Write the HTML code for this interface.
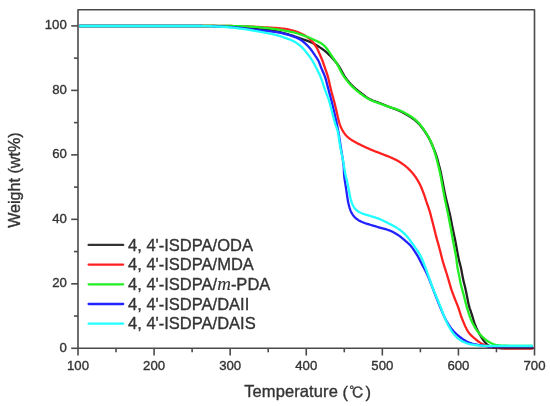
<!DOCTYPE html>
<html><head><meta charset="utf-8"><style>
html,body{margin:0;padding:0;background:#fff;width:550px;height:406px;overflow:hidden}
svg{display:block;filter:blur(0.4px)}
.c{font-family:"IPAGothic",sans-serif;font-weight:400}
.t{font-family:"Liberation Sans","Noto Sans CJK SC",sans-serif;fill:#333;stroke:#333;stroke-width:0.35px}
.tt{letter-spacing:0.1px}
.m{font-family:"Liberation Serif",serif;font-style:italic;font-size:19px;stroke-width:0.1px}
</style></head><body>
<svg width="550" height="406" viewBox="0 0 550 406">
<rect width="550" height="406" fill="#fff"/>

<g stroke="#4a4a4a" stroke-width="1.6" fill="none" stroke-linejoin="round">
<rect x="78.00" y="9.8" width="456.50" height="338.50"/>
<line x1="78.00" y1="348.30" x2="78.00" y2="355.50"/><line x1="116.04" y1="348.30" x2="116.04" y2="352.30"/><line x1="154.08" y1="348.30" x2="154.08" y2="355.50"/><line x1="192.12" y1="348.30" x2="192.12" y2="352.30"/><line x1="230.17" y1="348.30" x2="230.17" y2="355.50"/><line x1="268.21" y1="348.30" x2="268.21" y2="352.30"/><line x1="306.25" y1="348.30" x2="306.25" y2="355.50"/><line x1="344.29" y1="348.30" x2="344.29" y2="352.30"/><line x1="382.33" y1="348.30" x2="382.33" y2="355.50"/><line x1="420.38" y1="348.30" x2="420.38" y2="352.30"/><line x1="458.42" y1="348.30" x2="458.42" y2="355.50"/><line x1="496.46" y1="348.30" x2="496.46" y2="352.30"/><line x1="534.50" y1="348.30" x2="534.50" y2="355.50"/><line x1="78.00" y1="348.30" x2="71.20" y2="348.30"/><line x1="78.00" y1="316.06" x2="74.00" y2="316.06"/><line x1="78.00" y1="283.82" x2="71.20" y2="283.82"/><line x1="78.00" y1="251.58" x2="74.00" y2="251.58"/><line x1="78.00" y1="219.34" x2="71.20" y2="219.34"/><line x1="78.00" y1="187.10" x2="74.00" y2="187.10"/><line x1="78.00" y1="154.86" x2="71.20" y2="154.86"/><line x1="78.00" y1="122.62" x2="74.00" y2="122.62"/><line x1="78.00" y1="90.38" x2="71.20" y2="90.38"/><line x1="78.00" y1="58.14" x2="74.00" y2="58.14"/><line x1="78.00" y1="25.90" x2="71.20" y2="25.90"/>
</g>
<g fill="none" stroke-width="2.3" stroke-linejoin="round" stroke-linecap="butt">
<path d="M79.19,26.00L80.20,26.00L81.25,26.00L82.12,26.00L83.06,26.00L84.03,26.00L85.01,26.00L86.01,26.00L87.01,26.00L88.01,26.00L89.01,26.00L90.01,26.00L91.01,26.00L92.01,26.00L93.01,26.00L94.02,26.00L95.02,26.00L96.02,26.00L97.02,26.00L98.02,26.00L99.02,26.00L100.02,26.00L101.02,26.00L102.02,26.00L103.02,26.00L104.03,26.00L105.03,26.00L106.03,26.00L107.03,26.00L108.03,26.00L109.03,26.00L110.03,26.00L111.03,26.00L112.03,26.00L113.03,26.00L114.04,26.00L115.04,26.00L116.04,26.00L117.04,26.00L118.04,26.00L119.04,26.00L120.04,26.00L121.04,26.00L122.04,26.00L123.04,26.00L124.05,26.00L125.05,26.00L126.05,26.00L127.05,26.00L128.05,26.00L129.05,26.00L130.05,26.00L131.05,26.00L132.05,26.00L133.05,26.00L134.06,26.00L135.06,26.00L136.06,26.00L137.06,26.00L138.06,26.00L139.06,26.00L140.06,26.00L141.06,26.00L142.06,26.00L143.06,26.00L144.07,26.00L145.07,26.00L146.07,26.00L147.07,26.00L148.07,26.00L149.07,26.00L150.07,26.00L151.07,26.00L152.07,26.00L153.07,26.00L154.08,26.00L155.08,26.00L156.08,26.00L157.08,26.00L158.08,26.00L159.08,26.00L160.08,26.00L161.08,26.00L162.08,26.00L163.08,26.00L164.09,26.00L165.09,26.00L166.09,26.00L167.09,26.00L168.09,26.00L169.09,26.00L170.09,26.00L171.09,26.00L172.09,26.00L173.09,26.00L174.10,26.00L175.10,26.00L176.10,26.00L177.10,26.00L178.10,26.00L179.10,26.00L180.10,26.00L181.10,26.00L182.10,26.00L183.10,26.00L184.11,26.00L185.11,26.00L186.11,26.00L187.11,26.00L188.11,26.00L189.11,26.00L190.11,26.00L191.11,26.00L192.11,26.00L193.11,26.00L194.12,26.00L195.12,26.00L196.12,26.00L197.12,26.00L198.12,26.00L199.12,26.00L200.12,26.00L201.12,26.00L202.12,26.00L203.12,26.00L204.13,26.00L205.13,26.00L206.13,26.00L207.13,26.00L208.13,26.00L209.13,26.00L210.13,26.00L211.13,26.00L212.13,26.00L213.13,26.00L214.14,26.01L215.14,26.01L216.14,26.02L217.14,26.04L218.14,26.05L219.14,26.08L220.14,26.10L221.14,26.13L222.14,26.16L223.14,26.20L224.14,26.24L225.14,26.28L226.14,26.33L227.14,26.37L228.14,26.42L229.14,26.47L230.14,26.52L231.14,26.58L232.14,26.64L233.14,26.70L234.14,26.77L235.14,26.83L236.14,26.91L237.13,26.98L238.13,27.06L239.13,27.13L240.13,27.21L241.13,27.29L242.12,27.37L243.12,27.45L244.12,27.53L245.12,27.61L246.11,27.70L247.11,27.78L248.11,27.87L249.11,27.96L250.10,28.05L251.10,28.14L252.10,28.23L253.09,28.32L254.09,28.42L255.09,28.52L256.08,28.62L257.08,28.72L258.07,28.82L259.07,28.93L260.06,29.04L261.06,29.15L262.05,29.26L263.05,29.38L264.04,29.49L265.04,29.61L266.03,29.72L267.03,29.84L268.02,29.96L269.02,30.08L270.01,30.21L271.00,30.34L271.99,30.48L272.98,30.63L273.97,30.79L274.95,30.97L275.93,31.16L276.91,31.36L277.88,31.58L278.86,31.81L279.83,32.05L280.80,32.30L281.77,32.56L282.73,32.83L283.70,33.09L284.66,33.36L285.63,33.64L286.59,33.91L287.55,34.19L288.51,34.47L289.47,34.76L290.43,35.05L291.38,35.35L292.34,35.65L293.29,35.96L294.24,36.27L295.19,36.59L296.13,36.92L297.08,37.24L298.03,37.57L298.97,37.91L299.91,38.24L300.86,38.57L301.80,38.90L302.75,39.23L303.70,39.56L304.65,39.89L305.59,40.21L306.54,40.54L307.48,40.88L308.42,41.22L309.36,41.58L310.28,41.95L311.20,42.34L312.11,42.75L313.00,43.19L313.89,43.65L314.76,44.14L315.62,44.65L316.46,45.17L317.31,45.71L318.15,46.25L318.99,46.79L319.83,47.34L320.66,47.88L321.50,48.43L322.32,49.00L323.14,49.58L323.94,50.17L324.72,50.79L325.49,51.43L326.24,52.08L326.98,52.75L327.71,53.44L328.43,54.13L329.15,54.83L329.86,55.54L330.56,56.25L331.27,56.96L331.96,57.68L332.65,58.40L333.33,59.14L334.00,59.88L334.66,60.63L335.30,61.40L335.93,62.18L336.54,62.97L337.14,63.77L337.72,64.58L338.28,65.41L338.83,66.24L339.37,67.09L339.89,67.94L340.40,68.80L340.89,69.67L341.38,70.55L341.86,71.43L342.33,72.31L342.81,73.19L343.30,74.06L343.80,74.93L344.31,75.78L344.85,76.62L345.40,77.45L345.98,78.27L346.57,79.07L347.18,79.87L347.80,80.65L348.44,81.42L349.09,82.18L349.75,82.93L350.42,83.67L351.11,84.41L351.80,85.13L352.50,85.84L353.21,86.55L353.93,87.24L354.67,87.92L355.41,88.58L356.17,89.23L356.94,89.87L357.72,90.49L358.51,91.10L359.31,91.71L360.10,92.32L360.90,92.93L361.69,93.54L362.48,94.15L363.27,94.77L364.06,95.38L364.86,95.98L365.66,96.57L366.48,97.15L367.32,97.70L368.16,98.22L369.02,98.73L369.90,99.20L370.79,99.65L371.70,100.07L372.61,100.47L373.54,100.84L374.47,101.19L375.41,101.53L376.36,101.86L377.30,102.19L378.24,102.53L379.18,102.88L380.11,103.24L381.04,103.61L381.96,104.00L382.88,104.39L383.80,104.78L384.72,105.17L385.65,105.55L386.58,105.92L387.51,106.29L388.45,106.64L389.39,106.98L390.33,107.31L391.27,107.65L392.22,107.98L393.16,108.32L394.10,108.67L395.03,109.02L395.96,109.39L396.89,109.77L397.81,110.15L398.73,110.55L399.64,110.97L400.55,111.39L401.45,111.83L402.34,112.27L403.23,112.73L404.11,113.20L404.99,113.68L405.87,114.17L406.73,114.67L407.60,115.18L408.45,115.69L409.30,116.22L410.15,116.76L410.98,117.31L411.81,117.87L412.63,118.44L413.44,119.03L414.23,119.64L415.01,120.26L415.78,120.90L416.53,121.56L417.26,122.24L417.98,122.93L418.68,123.65L419.36,124.38L420.02,125.12L420.67,125.89L421.30,126.66L421.92,127.44L422.53,128.24L423.12,129.05L423.71,129.86L424.28,130.68L424.84,131.51L425.40,132.34L425.94,133.18L426.48,134.02L427.01,134.87L427.54,135.73L428.05,136.59L428.55,137.45L429.03,138.33L429.50,139.21L429.95,140.10L430.39,141.00L430.82,141.90L431.24,142.81L431.64,143.73L432.05,144.64L432.44,145.56L432.83,146.48L433.22,147.41L433.61,148.33L433.99,149.26L434.36,150.19L434.73,151.12L435.09,152.05L435.44,152.99L435.78,153.93L436.11,154.87L436.42,155.82L436.72,156.78L437.00,157.73L437.28,158.69L437.54,159.66L437.80,160.63L438.06,161.60L438.31,162.56L438.56,163.53L438.82,164.50L439.07,165.47L439.32,166.44L439.57,167.41L439.82,168.38L440.07,169.35L440.30,170.32L440.53,171.30L440.75,172.27L440.97,173.25L441.17,174.23L441.37,175.21L441.56,176.19L441.75,177.17L441.94,178.16L442.13,179.14L442.32,180.13L442.50,181.11L442.69,182.09L442.88,183.08L443.06,184.06L443.25,185.04L443.44,186.03L443.63,187.01L443.82,187.99L444.01,188.97L444.20,189.96L444.40,190.94L444.60,191.92L444.80,192.90L445.00,193.88L445.21,194.86L445.42,195.84L445.64,196.81L445.86,197.79L446.09,198.77L446.32,199.74L446.55,200.71L446.79,201.68L447.04,202.65L447.28,203.62L447.53,204.59L447.77,205.57L448.01,206.54L448.25,207.51L448.49,208.48L448.72,209.45L448.96,210.43L449.18,211.40L449.41,212.38L449.64,213.35L449.86,214.33L450.08,215.31L450.29,216.28L450.50,217.26L450.71,218.24L450.91,219.22L451.10,220.20L451.29,221.19L451.47,222.17L451.65,223.16L451.83,224.14L452.02,225.12L452.20,226.11L452.40,227.09L452.59,228.07L452.80,229.05L453.01,230.03L453.22,231.01L453.43,231.99L453.64,232.96L453.85,233.94L454.06,234.92L454.27,235.90L454.48,236.88L454.69,237.86L454.89,238.84L455.09,239.82L455.29,240.80L455.49,241.78L455.68,242.76L455.87,243.75L456.06,244.73L456.24,245.71L456.42,246.70L456.60,247.68L456.78,248.67L456.96,249.65L457.14,250.64L457.31,251.62L457.49,252.61L457.67,253.60L457.84,254.58L458.03,255.57L458.21,256.55L458.40,257.53L458.61,258.51L458.82,259.49L459.05,260.46L459.29,261.43L459.54,262.40L459.80,263.36L460.06,264.33L460.32,265.29L460.56,266.26L460.80,267.24L461.02,268.21L461.23,269.19L461.43,270.17L461.62,271.15L461.80,272.14L461.98,273.12L462.16,274.11L462.34,275.09L462.52,276.08L462.70,277.06L462.90,278.04L463.10,279.02L463.31,280.00L463.54,280.97L463.77,281.95L464.01,282.92L464.25,283.89L464.50,284.86L464.74,285.83L464.98,286.80L465.22,287.77L465.44,288.75L465.66,289.73L465.87,290.70L466.08,291.68L466.28,292.66L466.48,293.64L466.68,294.63L466.88,295.61L467.07,296.59L467.26,297.57L467.45,298.56L467.64,299.54L467.83,300.52L468.02,301.51L468.22,302.49L468.42,303.47L468.64,304.44L468.87,305.41L469.13,306.37L469.41,307.33L469.71,308.28L470.03,309.22L470.36,310.17L470.69,311.11L471.02,312.06L471.34,313.01L471.65,313.96L471.95,314.91L472.24,315.87L472.52,316.83L472.81,317.79L473.09,318.75L473.38,319.71L473.68,320.67L473.98,321.62L474.30,322.57L474.62,323.52L474.96,324.46L475.31,325.39L475.68,326.32L476.07,327.24L476.47,328.16L476.89,329.06L477.33,329.96L477.78,330.85L478.25,331.74L478.73,332.61L479.22,333.49L479.72,334.35L480.23,335.22L480.74,336.08L481.26,336.94L481.79,337.79L482.32,338.63L482.87,339.47L483.44,340.29L484.03,341.10L484.64,341.88L485.28,342.64L485.96,343.35L486.68,344.03L487.44,344.65L488.23,345.22L489.07,345.72L489.95,346.17L490.85,346.55L491.78,346.88L492.73,347.16L493.69,347.39L494.67,347.58L495.66,347.74L496.65,347.87L497.64,347.97L498.64,348.05L499.64,348.12L500.64,348.18L501.64,348.23L502.64,348.26L503.64,348.29L504.64,348.32L505.64,348.34L506.64,348.36L507.64,348.37L508.64,348.38L509.64,348.39L510.64,348.39L511.64,348.40L512.65,348.40L513.65,348.40L514.65,348.40L515.65,348.40L516.65,348.40L517.65,348.40L518.65,348.40L519.65,348.40L520.65,348.40L521.65,348.40L522.66,348.40L523.66,348.40L524.66,348.40L525.66,348.40L526.66,348.40L527.65,348.40L528.62,348.40L529.57,348.40L530.47,348.40L531.30,348.40L532.25,348.40L532.81,348.40" stroke="#222222"/>
<path d="M79.19,26.00L80.20,26.00L81.24,26.00L82.12,26.00L83.06,26.00L84.03,26.00L85.01,26.00L86.01,26.00L87.01,26.00L88.01,26.00L89.01,26.00L90.01,26.00L91.01,26.00L92.01,26.00L93.01,26.00L94.01,26.00L95.01,26.00L96.02,26.00L97.02,26.00L98.02,26.00L99.02,26.00L100.02,26.00L101.02,26.00L102.02,26.00L103.02,26.00L104.02,26.00L105.02,26.00L106.02,26.00L107.03,26.00L108.03,26.00L109.03,26.00L110.03,26.00L111.03,26.00L112.03,26.00L113.03,26.00L114.03,26.00L115.03,26.00L116.03,26.00L117.03,26.00L118.03,26.00L119.04,26.00L120.04,26.00L121.04,26.00L122.04,26.00L123.04,26.00L124.04,26.00L125.04,26.00L126.04,26.00L127.04,26.00L128.04,26.00L129.04,26.00L130.04,26.00L131.05,26.00L132.05,26.00L133.05,26.00L134.05,26.00L135.05,26.00L136.05,26.00L137.05,26.00L138.05,26.00L139.05,26.00L140.05,26.00L141.05,26.00L142.06,26.00L143.06,26.00L144.06,26.00L145.06,26.00L146.06,26.00L147.06,26.00L148.06,26.00L149.06,26.00L150.06,26.00L151.06,26.00L152.06,26.00L153.06,26.00L154.07,26.00L155.07,26.00L156.07,26.00L157.07,26.00L158.07,26.00L159.07,26.00L160.07,26.00L161.07,26.00L162.07,26.00L163.07,26.00L164.07,26.00L165.08,26.00L166.08,26.00L167.08,26.00L168.08,26.00L169.08,26.00L170.08,26.00L171.08,26.00L172.08,26.00L173.08,26.00L174.08,26.00L175.08,26.00L176.08,26.00L177.09,26.00L178.09,26.00L179.09,26.00L180.09,26.00L181.09,26.00L182.09,26.00L183.09,26.00L184.09,26.00L185.09,26.00L186.09,26.00L187.09,26.00L188.09,26.00L189.10,26.00L190.10,26.00L191.10,26.00L192.10,26.00L193.10,26.00L194.10,26.00L195.10,26.00L196.10,26.00L197.10,26.00L198.10,26.00L199.10,26.00L200.11,26.00L201.11,26.00L202.11,26.00L203.11,26.00L204.11,26.00L205.11,26.00L206.11,26.00L207.11,26.00L208.11,26.00L209.11,26.00L210.11,26.00L211.11,26.00L212.12,26.00L213.12,26.00L214.12,26.00L215.12,26.00L216.12,26.00L217.12,26.00L218.12,26.00L219.12,26.00L220.12,26.00L221.12,26.00L222.12,26.00L223.13,26.00L224.13,26.00L225.13,26.00L226.13,26.00L227.13,26.00L228.13,26.00L229.13,26.00L230.13,26.01L231.13,26.01L232.13,26.02L233.13,26.03L234.13,26.04L235.14,26.06L236.14,26.08L237.14,26.10L238.14,26.12L239.14,26.14L240.14,26.17L241.14,26.19L242.14,26.22L243.14,26.25L244.14,26.28L245.14,26.32L246.14,26.36L247.14,26.40L248.14,26.44L249.14,26.49L250.14,26.54L251.14,26.59L252.14,26.64L253.14,26.70L254.14,26.75L255.14,26.81L256.14,26.86L257.14,26.91L258.14,26.97L259.13,27.02L260.13,27.08L261.13,27.13L262.13,27.19L263.13,27.24L264.13,27.30L265.13,27.35L266.13,27.40L267.13,27.46L268.13,27.51L269.13,27.57L270.13,27.62L271.13,27.68L272.13,27.73L273.13,27.79L274.13,27.86L275.12,27.92L276.12,27.99L277.12,28.07L278.12,28.14L279.12,28.23L280.11,28.32L281.11,28.41L282.11,28.52L283.10,28.63L284.09,28.76L285.08,28.89L286.07,29.04L287.06,29.21L288.05,29.39L289.03,29.58L290.01,29.79L290.98,30.02L291.95,30.26L292.92,30.51L293.87,30.79L294.83,31.09L295.78,31.40L296.72,31.74L297.65,32.10L298.58,32.48L299.50,32.87L300.42,33.28L301.32,33.71L302.22,34.15L303.11,34.61L303.99,35.09L304.86,35.58L305.72,36.10L306.56,36.64L307.39,37.20L308.20,37.78L308.99,38.39L309.76,39.02L310.50,39.68L311.22,40.37L311.91,41.09L312.58,41.83L313.21,42.59L313.83,43.38L314.41,44.19L314.98,45.01L315.52,45.85L316.05,46.70L316.55,47.56L317.04,48.43L317.51,49.32L317.95,50.21L318.37,51.11L318.78,52.02L319.18,52.94L319.57,53.86L319.97,54.78L320.36,55.70L320.75,56.62L321.15,57.54L321.55,58.46L321.93,59.38L322.31,60.31L322.67,61.24L323.01,62.18L323.35,63.12L323.67,64.07L323.99,65.01L324.30,65.96L324.62,66.91L324.94,67.86L325.26,68.81L325.59,69.76L325.92,70.70L326.25,71.65L326.58,72.59L326.90,73.54L327.22,74.48L327.52,75.44L327.80,76.39L328.07,77.36L328.33,78.32L328.57,79.29L328.81,80.27L329.03,81.24L329.25,82.22L329.47,83.20L329.68,84.17L329.90,85.15L330.12,86.13L330.34,87.10L330.57,88.08L330.80,89.05L331.04,90.02L331.29,90.99L331.54,91.96L331.79,92.93L332.06,93.89L332.32,94.86L332.60,95.82L332.87,96.78L333.14,97.75L333.41,98.71L333.67,99.68L333.93,100.64L334.19,101.61L334.43,102.58L334.68,103.55L334.91,104.52L335.15,105.50L335.38,106.47L335.61,107.44L335.84,108.42L336.07,109.39L336.29,110.37L336.52,111.35L336.75,112.32L336.98,113.30L337.20,114.28L337.42,115.26L337.65,116.24L337.87,117.21L338.10,118.19L338.34,119.17L338.58,120.14L338.83,121.11L339.10,122.07L339.38,123.02L339.69,123.97L340.02,124.90L340.38,125.83L340.76,126.75L341.17,127.66L341.60,128.56L342.05,129.45L342.53,130.33L343.03,131.19L343.55,132.04L344.10,132.88L344.68,133.69L345.29,134.47L345.93,135.23L346.60,135.96L347.31,136.65L348.04,137.32L348.80,137.96L349.59,138.58L350.39,139.17L351.21,139.74L352.05,140.29L352.90,140.81L353.76,141.32L354.63,141.81L355.50,142.29L356.39,142.76L357.28,143.22L358.17,143.67L359.06,144.12L359.96,144.57L360.85,145.02L361.75,145.46L362.65,145.89L363.55,146.32L364.46,146.75L365.37,147.18L366.27,147.60L367.19,148.01L368.10,148.42L369.01,148.82L369.93,149.22L370.86,149.61L371.78,149.99L372.71,150.37L373.64,150.74L374.57,151.10L375.50,151.47L376.43,151.83L377.37,152.19L378.30,152.54L379.24,152.90L380.17,153.26L381.11,153.62L382.04,153.98L382.97,154.35L383.91,154.71L384.84,155.07L385.77,155.44L386.70,155.81L387.63,156.18L388.56,156.55L389.49,156.93L390.42,157.31L391.34,157.70L392.26,158.09L393.17,158.50L394.08,158.92L394.97,159.36L395.86,159.81L396.74,160.28L397.61,160.78L398.47,161.28L399.33,161.80L400.17,162.34L401.01,162.88L401.84,163.44L402.67,164.01L403.48,164.59L404.28,165.19L405.07,165.80L405.85,166.43L406.61,167.07L407.36,167.74L408.09,168.41L408.81,169.11L409.52,169.81L410.22,170.53L410.90,171.26L411.57,172.00L412.23,172.76L412.87,173.52L413.50,174.30L414.12,175.09L414.72,175.89L415.30,176.70L415.87,177.52L416.43,178.35L416.97,179.19L417.49,180.04L418.00,180.90L418.49,181.77L418.97,182.65L419.43,183.54L419.88,184.43L420.32,185.33L420.74,186.24L421.15,187.15L421.54,188.07L421.93,189.00L422.30,189.92L422.67,190.85L423.03,191.79L423.38,192.73L423.72,193.67L424.06,194.61L424.39,195.55L424.71,196.50L425.03,197.45L425.35,198.40L425.66,199.35L425.98,200.30L426.30,201.25L426.61,202.20L426.94,203.14L427.26,204.09L427.59,205.04L427.92,205.98L428.26,206.92L428.59,207.87L428.91,208.81L429.23,209.76L429.53,210.72L429.81,211.67L430.08,212.63L430.35,213.60L430.60,214.57L430.85,215.54L431.09,216.51L431.34,217.48L431.59,218.45L431.84,219.41L432.09,220.38L432.34,221.35L432.60,222.32L432.85,223.29L433.10,224.26L433.35,225.23L433.60,226.20L433.85,227.17L434.09,228.14L434.33,229.11L434.57,230.08L434.81,231.05L435.05,232.02L435.29,233.00L435.53,233.97L435.78,234.94L436.03,235.91L436.28,236.87L436.54,237.84L436.80,238.81L437.06,239.77L437.33,240.74L437.60,241.70L437.88,242.66L438.15,243.63L438.42,244.59L438.69,245.55L438.96,246.52L439.23,247.48L439.49,248.45L439.74,249.42L439.99,250.38L440.24,251.35L440.49,252.32L440.73,253.30L440.97,254.27L441.21,255.24L441.45,256.21L441.70,257.18L441.95,258.15L442.21,259.11L442.47,260.08L442.74,261.04L443.02,262.00L443.30,262.96L443.59,263.92L443.88,264.88L444.18,265.84L444.48,266.79L444.78,267.74L445.09,268.70L445.39,269.65L445.70,270.60L446.00,271.56L446.31,272.51L446.61,273.47L446.90,274.42L447.20,275.38L447.49,276.33L447.78,277.29L448.07,278.25L448.35,279.21L448.63,280.17L448.91,281.13L449.19,282.09L449.47,283.06L449.75,284.02L450.02,284.98L450.30,285.94L450.59,286.90L450.88,287.86L451.18,288.81L451.49,289.76L451.81,290.71L452.15,291.65L452.48,292.59L452.83,293.53L453.18,294.47L453.54,295.41L453.89,296.34L454.25,297.27L454.62,298.21L454.99,299.14L455.36,300.07L455.73,300.99L456.11,301.92L456.49,302.85L456.86,303.78L457.23,304.71L457.59,305.64L457.95,306.57L458.29,307.51L458.62,308.46L458.94,309.41L459.25,310.36L459.55,311.31L459.85,312.27L460.15,313.22L460.45,314.17L460.77,315.12L461.09,316.07L461.43,317.01L461.78,317.94L462.14,318.88L462.51,319.81L462.89,320.73L463.27,321.66L463.66,322.58L464.05,323.51L464.44,324.43L464.85,325.34L465.26,326.26L465.68,327.17L466.12,328.07L466.57,328.96L467.04,329.84L467.54,330.70L468.07,331.54L468.63,332.35L469.23,333.15L469.86,333.91L470.52,334.66L471.21,335.38L471.92,336.07L472.65,336.75L473.40,337.42L474.16,338.07L474.92,338.72L475.69,339.36L476.47,339.99L477.26,340.61L478.05,341.21L478.86,341.80L479.69,342.36L480.53,342.89L481.38,343.40L482.26,343.87L483.15,344.31L484.06,344.71L484.98,345.09L485.92,345.43L486.87,345.74L487.82,346.03L488.79,346.30L489.76,346.53L490.73,346.75L491.71,346.94L492.70,347.12L493.68,347.27L494.67,347.41L495.67,347.53L496.66,347.64L497.66,347.74L498.65,347.84L499.65,347.93L500.65,348.01L501.65,348.08L502.65,348.14L503.64,348.20L504.64,348.24L505.64,348.28L506.64,348.31L507.64,348.34L508.64,348.36L509.65,348.37L510.65,348.38L511.65,348.39L512.65,348.39L513.65,348.40L514.65,348.40L515.65,348.40L516.65,348.40L517.65,348.40L518.65,348.40L519.65,348.40L520.66,348.40L521.66,348.40L522.66,348.40L523.66,348.40L524.66,348.40L525.66,348.40L526.66,348.40L527.65,348.40L528.62,348.40L529.57,348.40L530.47,348.40L531.30,348.40L532.25,348.40L532.81,348.40" stroke="#ff2020"/>
<path d="M79.19,26.00L80.20,26.00L81.24,26.00L82.12,26.00L83.06,26.00L84.02,26.00L85.01,26.00L86.01,26.00L87.00,26.00L88.01,26.00L89.01,26.00L90.01,26.00L91.01,26.00L92.01,26.00L93.01,26.00L94.01,26.00L95.01,26.00L96.01,26.00L97.01,26.00L98.01,26.00L99.01,26.00L100.01,26.00L101.01,26.00L102.01,26.00L103.01,26.00L104.01,26.00L105.01,26.00L106.01,26.00L107.01,26.00L108.02,26.00L109.02,26.00L110.02,26.00L111.02,26.00L112.02,26.00L113.02,26.00L114.02,26.00L115.02,26.00L116.02,26.00L117.02,26.00L118.02,26.00L119.02,26.00L120.02,26.00L121.02,26.00L122.02,26.00L123.02,26.00L124.02,26.00L125.02,26.00L126.02,26.00L127.03,26.00L128.03,26.00L129.03,26.00L130.03,26.00L131.03,26.00L132.03,26.00L133.03,26.00L134.03,26.00L135.03,26.00L136.03,26.00L137.03,26.00L138.03,26.00L139.03,26.00L140.03,26.00L141.03,26.00L142.03,26.00L143.03,26.00L144.03,26.00L145.03,26.00L146.03,26.00L147.04,26.00L148.04,26.00L149.04,26.00L150.04,26.00L151.04,26.00L152.04,26.00L153.04,26.00L154.04,26.00L155.04,26.00L156.04,26.00L157.04,26.00L158.04,26.00L159.04,26.00L160.04,26.00L161.04,26.00L162.04,26.00L163.04,26.00L164.04,26.00L165.04,26.00L166.05,26.00L167.05,26.00L168.05,26.00L169.05,26.00L170.05,26.00L171.05,26.00L172.05,26.00L173.05,26.00L174.05,26.00L175.05,26.00L176.05,26.00L177.05,26.00L178.05,26.00L179.05,26.00L180.05,26.00L181.05,26.00L182.05,26.00L183.05,26.00L184.05,26.00L185.05,26.00L186.06,26.00L187.06,26.00L188.06,26.00L189.06,26.00L190.06,26.00L191.06,26.00L192.06,26.00L193.06,26.00L194.06,26.00L195.06,26.00L196.06,26.00L197.06,26.00L198.06,26.00L199.06,26.00L200.06,26.00L201.06,26.00L202.06,26.00L203.06,26.00L204.06,26.00L205.06,26.00L206.07,26.00L207.07,26.00L208.07,26.00L209.07,26.00L210.07,26.00L211.07,26.00L212.07,26.00L213.07,26.00L214.07,26.00L215.07,26.00L216.07,26.00L217.07,26.00L218.07,26.00L219.07,26.00L220.07,26.00L221.07,26.00L222.07,26.00L223.07,26.00L224.07,26.00L225.08,26.00L226.08,26.00L227.08,26.00L228.08,26.00L229.08,26.00L230.08,26.01L231.08,26.01L232.08,26.02L233.08,26.03L234.08,26.05L235.08,26.06L236.08,26.09L237.08,26.11L238.08,26.14L239.08,26.17L240.08,26.20L241.08,26.24L242.08,26.27L243.08,26.31L244.08,26.35L245.08,26.39L246.08,26.43L247.08,26.47L248.08,26.52L249.08,26.57L250.08,26.63L251.07,26.69L252.07,26.75L253.07,26.82L254.07,26.89L255.07,26.97L256.06,27.05L257.06,27.13L258.06,27.22L259.05,27.31L260.05,27.40L261.05,27.50L262.04,27.59L263.04,27.69L264.03,27.80L265.03,27.90L266.02,28.00L267.02,28.11L268.01,28.21L269.01,28.32L270.00,28.43L271.00,28.54L271.99,28.65L272.98,28.77L273.98,28.90L274.97,29.03L275.96,29.17L276.95,29.31L277.94,29.46L278.93,29.62L279.91,29.78L280.90,29.94L281.89,30.11L282.87,30.29L283.86,30.46L284.84,30.64L285.83,30.82L286.81,31.01L287.79,31.19L288.78,31.39L289.76,31.59L290.74,31.79L291.71,32.01L292.69,32.23L293.66,32.47L294.63,32.71L295.59,32.97L296.56,33.23L297.52,33.51L298.48,33.80L299.43,34.09L300.39,34.40L301.33,34.71L302.28,35.04L303.22,35.37L304.17,35.71L305.10,36.06L306.04,36.42L306.97,36.78L307.90,37.15L308.82,37.53L309.75,37.92L310.67,38.32L311.58,38.71L312.50,39.12L313.41,39.53L314.32,39.95L315.23,40.37L316.14,40.79L317.04,41.22L317.95,41.66L318.84,42.11L319.72,42.57L320.59,43.06L321.44,43.57L322.26,44.12L323.05,44.71L323.81,45.34L324.54,46.02L325.23,46.72L325.88,47.47L326.51,48.24L327.11,49.03L327.70,49.84L328.26,50.67L328.82,51.50L329.37,52.33L329.92,53.17L330.48,54.00L331.03,54.84L331.59,55.67L332.15,56.50L332.71,57.33L333.27,58.15L333.83,58.98L334.39,59.81L334.95,60.64L335.51,61.47L336.05,62.31L336.58,63.16L337.10,64.01L337.59,64.88L338.07,65.75L338.53,66.64L338.97,67.53L339.41,68.43L339.85,69.33L340.29,70.23L340.75,71.12L341.21,72.00L341.70,72.88L342.19,73.75L342.70,74.60L343.23,75.45L343.78,76.29L344.34,77.11L344.91,77.93L345.51,78.74L346.11,79.53L346.73,80.32L347.35,81.10L347.99,81.88L348.63,82.64L349.28,83.40L349.95,84.15L350.62,84.88L351.31,85.61L352.01,86.33L352.72,87.03L353.44,87.72L354.17,88.40L354.92,89.07L355.67,89.72L356.43,90.37L357.21,91.00L357.98,91.63L358.77,92.25L359.56,92.87L360.35,93.48L361.15,94.08L361.95,94.68L362.76,95.27L363.57,95.86L364.39,96.43L365.22,96.98L366.06,97.52L366.91,98.05L367.77,98.55L368.65,99.03L369.53,99.49L370.43,99.93L371.33,100.35L372.25,100.75L373.18,101.13L374.11,101.49L375.04,101.84L375.99,102.17L376.93,102.50L377.87,102.84L378.82,103.17L379.76,103.51L380.69,103.86L381.63,104.21L382.57,104.56L383.50,104.92L384.44,105.28L385.37,105.62L386.31,105.96L387.26,106.29L388.21,106.60L389.16,106.91L390.11,107.20L391.07,107.49L392.03,107.78L392.99,108.07L393.94,108.37L394.89,108.68L395.84,108.99L396.79,109.32L397.72,109.67L398.65,110.03L399.58,110.41L400.50,110.80L401.41,111.21L402.32,111.64L403.21,112.07L404.11,112.52L404.99,112.99L405.87,113.46L406.75,113.95L407.62,114.44L408.48,114.95L409.34,115.47L410.18,116.00L411.02,116.54L411.85,117.10L412.67,117.67L413.48,118.26L414.27,118.87L415.04,119.50L415.80,120.15L416.54,120.82L417.26,121.51L417.96,122.22L418.64,122.95L419.30,123.70L419.94,124.46L420.57,125.24L421.18,126.03L421.79,126.82L422.39,127.63L422.98,128.43L423.57,129.24L424.15,130.06L424.72,130.88L425.28,131.71L425.83,132.54L426.37,133.38L426.90,134.23L427.41,135.09L427.91,135.96L428.40,136.83L428.88,137.71L429.34,138.59L429.80,139.48L430.23,140.38L430.66,141.29L431.06,142.20L431.46,143.12L431.84,144.04L432.20,144.97L432.56,145.91L432.90,146.85L433.24,147.79L433.57,148.73L433.89,149.68L434.20,150.63L434.51,151.58L434.81,152.54L435.10,153.50L435.39,154.45L435.66,155.42L435.93,156.38L436.19,157.34L436.45,158.31L436.70,159.28L436.95,160.25L437.19,161.22L437.44,162.19L437.68,163.16L437.92,164.13L438.16,165.10L438.40,166.07L438.64,167.05L438.88,168.02L439.11,168.99L439.34,169.96L439.57,170.94L439.79,171.91L440.00,172.89L440.20,173.87L440.40,174.85L440.59,175.83L440.78,176.82L440.97,177.80L441.15,178.78L441.33,179.77L441.50,180.75L441.68,181.74L441.85,182.72L442.03,183.71L442.20,184.69L442.37,185.68L442.55,186.66L442.72,187.65L442.90,188.63L443.08,189.62L443.26,190.60L443.44,191.59L443.62,192.57L443.80,193.55L443.99,194.54L444.17,195.52L444.36,196.50L444.55,197.49L444.75,198.47L444.94,199.45L445.14,200.43L445.34,201.41L445.54,202.39L445.75,203.37L445.96,204.35L446.17,205.32L446.38,206.30L446.59,207.28L446.81,208.26L447.02,209.23L447.23,210.21L447.44,211.19L447.65,212.17L447.85,213.15L448.05,214.13L448.25,215.11L448.44,216.09L448.63,217.07L448.82,218.06L449.01,219.04L449.20,220.02L449.39,221.00L449.58,221.99L449.77,222.97L449.96,223.95L450.14,224.93L450.33,225.92L450.52,226.90L450.71,227.88L450.90,228.86L451.09,229.85L451.27,230.83L451.45,231.82L451.62,232.80L451.79,233.79L451.96,234.77L452.13,235.76L452.29,236.75L452.46,237.73L452.63,238.72L452.80,239.70L452.98,240.69L453.16,241.67L453.35,242.65L453.54,243.64L453.73,244.62L453.92,245.60L454.11,246.58L454.30,247.56L454.49,248.55L454.68,249.53L454.87,250.51L455.06,251.49L455.25,252.48L455.44,253.46L455.63,254.44L455.82,255.43L455.99,256.41L456.16,257.40L456.31,258.38L456.44,259.37L456.57,260.36L456.68,261.36L456.79,262.35L456.90,263.34L457.02,264.34L457.15,265.33L457.29,266.31L457.45,267.30L457.63,268.28L457.81,269.27L458.01,270.25L458.21,271.23L458.42,272.21L458.63,273.19L458.83,274.17L459.03,275.15L459.22,276.13L459.41,277.11L459.59,278.10L459.77,279.08L459.94,280.07L460.12,281.05L460.31,282.03L460.51,283.01L460.73,283.98L460.97,284.95L461.22,285.92L461.48,286.88L461.74,287.85L462.01,288.81L462.28,289.78L462.55,290.74L462.81,291.71L463.07,292.67L463.33,293.64L463.58,294.61L463.83,295.58L464.07,296.55L464.32,297.52L464.56,298.49L464.80,299.46L465.04,300.43L465.29,301.40L465.53,302.37L465.78,303.34L466.04,304.31L466.29,305.27L466.56,306.24L466.83,307.20L467.10,308.16L467.38,309.12L467.67,310.08L467.96,311.04L468.26,312.00L468.56,312.95L468.86,313.90L469.18,314.85L469.50,315.80L469.83,316.74L470.18,317.68L470.54,318.61L470.92,319.53L471.32,320.45L471.73,321.36L472.16,322.27L472.60,323.16L473.06,324.05L473.53,324.94L474.01,325.82L474.50,326.69L475.01,327.55L475.53,328.41L476.07,329.25L476.62,330.08L477.20,330.89L477.79,331.69L478.41,332.47L479.04,333.24L479.70,334.00L480.37,334.74L481.06,335.46L481.77,336.18L482.49,336.87L483.22,337.56L483.97,338.23L484.73,338.88L485.50,339.52L486.29,340.14L487.09,340.73L487.91,341.31L488.75,341.85L489.60,342.36L490.47,342.84L491.36,343.29L492.27,343.69L493.20,344.06L494.14,344.38L495.09,344.66L496.05,344.90L497.02,345.09L498.01,345.25L498.99,345.37L499.99,345.47L500.98,345.55L501.98,345.61L502.98,345.66L503.98,345.69L504.98,345.72L505.98,345.74L506.99,345.76L507.99,345.77L508.99,345.78L509.99,345.79L510.99,345.79L511.99,345.80L512.99,345.80L513.99,345.80L514.99,345.80L515.99,345.80L516.99,345.80L517.99,345.80L518.99,345.80L519.99,345.80L520.99,345.80L521.99,345.80L522.99,345.80L523.99,345.80L525.00,345.80L525.99,345.80L526.99,345.80L527.98,345.80L528.94,345.80L529.88,345.80L530.76,345.80L531.80,345.80L532.64,345.80L532.81,345.80" stroke="#22ee22"/>
<path d="M79.19,26.00L80.20,26.00L81.24,26.00L82.12,26.00L83.06,26.00L84.02,26.00L85.01,26.00L86.01,26.00L87.01,26.00L88.01,26.00L89.01,26.00L90.01,26.00L91.01,26.00L92.01,26.00L93.01,26.00L94.01,26.00L95.01,26.00L96.01,26.00L97.01,26.00L98.01,26.00L99.01,26.00L100.01,26.00L101.01,26.00L102.02,26.00L103.02,26.00L104.02,26.00L105.02,26.00L106.02,26.00L107.02,26.00L108.02,26.00L109.02,26.00L110.02,26.00L111.02,26.00L112.02,26.00L113.02,26.00L114.02,26.00L115.02,26.00L116.02,26.00L117.02,26.00L118.03,26.00L119.03,26.00L120.03,26.00L121.03,26.00L122.03,26.00L123.03,26.00L124.03,26.00L125.03,26.00L126.03,26.00L127.03,26.00L128.03,26.00L129.03,26.00L130.03,26.00L131.03,26.00L132.03,26.00L133.04,26.00L134.04,26.00L135.04,26.00L136.04,26.00L137.04,26.00L138.04,26.00L139.04,26.00L140.04,26.00L141.04,26.00L142.04,26.00L143.04,26.00L144.04,26.00L145.04,26.00L146.04,26.00L147.04,26.00L148.04,26.00L149.05,26.00L150.05,26.00L151.05,26.00L152.05,26.00L153.05,26.00L154.05,26.00L155.05,26.00L156.05,26.00L157.05,26.00L158.05,26.00L159.05,26.00L160.05,26.00L161.05,26.00L162.05,26.00L163.05,26.00L164.06,26.00L165.06,26.00L166.06,26.00L167.06,26.00L168.06,26.00L169.06,26.00L170.06,26.00L171.06,26.00L172.06,26.00L173.06,26.00L174.06,26.00L175.06,26.00L176.06,26.00L177.06,26.00L178.06,26.00L179.06,26.00L180.07,26.00L181.07,26.00L182.07,26.00L183.07,26.00L184.07,26.00L185.07,26.00L186.07,26.00L187.07,26.00L188.07,26.00L189.07,26.00L190.07,26.00L191.07,26.00L192.07,26.00L193.07,26.00L194.07,26.00L195.08,26.00L196.08,26.00L197.08,26.00L198.08,26.00L199.08,26.00L200.08,26.01L201.08,26.01L202.08,26.02L203.08,26.03L204.08,26.04L205.08,26.06L206.08,26.08L207.08,26.10L208.08,26.12L209.08,26.14L210.08,26.17L211.08,26.19L212.08,26.22L213.08,26.25L214.08,26.28L215.08,26.31L216.08,26.34L217.08,26.38L218.08,26.41L219.08,26.45L220.08,26.49L221.08,26.53L222.08,26.58L223.08,26.63L224.08,26.68L225.08,26.73L226.08,26.78L227.08,26.84L228.08,26.90L229.08,26.95L230.08,27.02L231.08,27.08L232.07,27.15L233.07,27.22L234.07,27.30L235.07,27.37L236.07,27.46L237.06,27.54L238.06,27.64L239.05,27.73L240.05,27.83L241.04,27.94L242.04,28.06L243.03,28.18L244.02,28.30L245.01,28.43L246.01,28.57L247.00,28.71L247.99,28.85L248.98,28.98L249.97,29.12L250.96,29.26L251.95,29.39L252.95,29.52L253.94,29.65L254.93,29.77L255.93,29.88L256.92,29.99L257.92,30.09L258.91,30.20L259.91,30.30L260.90,30.40L261.90,30.49L262.89,30.59L263.89,30.69L264.89,30.79L265.88,30.89L266.88,30.99L267.87,31.10L268.87,31.20L269.86,31.31L270.86,31.42L271.85,31.53L272.85,31.65L273.84,31.78L274.83,31.92L275.82,32.06L276.81,32.21L277.80,32.38L278.78,32.55L279.77,32.73L280.75,32.92L281.73,33.12L282.70,33.33L283.68,33.56L284.65,33.80L285.62,34.04L286.58,34.31L287.55,34.58L288.50,34.87L289.46,35.16L290.41,35.47L291.37,35.79L292.31,36.12L293.26,36.46L294.20,36.80L295.14,37.16L296.07,37.54L296.99,37.93L297.89,38.34L298.78,38.79L299.65,39.26L300.50,39.77L301.32,40.31L302.13,40.88L302.91,41.49L303.68,42.13L304.44,42.78L305.19,43.45L305.93,44.13L306.67,44.82L307.39,45.51L308.10,46.22L308.79,46.94L309.46,47.68L310.10,48.44L310.72,49.21L311.31,50.01L311.89,50.82L312.45,51.65L313.00,52.48L313.56,53.31L314.12,54.14L314.68,54.97L315.25,55.79L315.82,56.62L316.39,57.44L316.94,58.27L317.47,59.11L317.97,59.96L318.43,60.83L318.86,61.73L319.25,62.64L319.61,63.56L319.96,64.49L320.31,65.43L320.66,66.37L321.02,67.31L321.39,68.24L321.77,69.16L322.17,70.08L322.58,70.99L322.99,71.91L323.40,72.82L323.80,73.73L324.18,74.65L324.55,75.58L324.89,76.51L325.22,77.46L325.52,78.41L325.80,79.37L326.07,80.33L326.33,81.30L326.58,82.27L326.83,83.24L327.08,84.21L327.33,85.18L327.57,86.15L327.82,87.12L328.07,88.09L328.33,89.05L328.58,90.02L328.84,90.99L329.10,91.95L329.36,92.92L329.63,93.88L329.89,94.85L330.16,95.81L330.42,96.78L330.68,97.75L330.94,98.71L331.19,99.68L331.45,100.65L331.69,101.62L331.94,102.59L332.18,103.56L332.42,104.53L332.65,105.50L332.89,106.48L333.12,107.45L333.35,108.42L333.58,109.40L333.80,110.37L334.03,111.35L334.26,112.32L334.48,113.30L334.71,114.27L334.93,115.25L335.16,116.22L335.38,117.20L335.60,118.17L335.82,119.15L336.04,120.13L336.25,121.10L336.47,122.08L336.68,123.06L336.88,124.04L337.09,125.02L337.29,126.00L337.48,126.98L337.68,127.96L337.86,128.94L338.05,129.93L338.23,130.91L338.40,131.90L338.57,132.88L338.74,133.87L338.90,134.86L339.06,135.85L339.21,136.83L339.37,137.82L339.51,138.81L339.66,139.80L339.81,140.79L339.95,141.78L340.10,142.77L340.25,143.76L340.39,144.75L340.54,145.74L340.70,146.73L340.85,147.72L341.01,148.71L341.17,149.69L341.34,150.68L341.50,151.67L341.67,152.65L341.84,153.64L342.01,154.63L342.18,155.61L342.34,156.60L342.50,157.59L342.65,158.58L342.80,159.57L342.95,160.56L343.09,161.55L343.22,162.54L343.35,163.53L343.47,164.53L343.57,165.52L343.67,166.52L343.75,167.51L343.81,168.51L343.87,169.51L343.91,170.51L343.95,171.51L343.98,172.50L344.03,173.50L344.08,174.50L344.15,175.49L344.24,176.49L344.35,177.48L344.48,178.47L344.62,179.46L344.78,180.45L344.94,181.44L345.10,182.43L345.26,183.42L345.42,184.41L345.58,185.39L345.74,186.38L345.89,187.37L346.04,188.36L346.19,189.35L346.34,190.34L346.48,191.33L346.62,192.32L346.76,193.31L346.90,194.30L347.04,195.29L347.18,196.28L347.33,197.27L347.48,198.26L347.64,199.25L347.81,200.23L348.00,201.22L348.20,202.20L348.41,203.17L348.63,204.15L348.87,205.12L349.12,206.09L349.39,207.06L349.67,208.02L349.98,208.97L350.31,209.91L350.67,210.84L351.07,211.75L351.50,212.64L351.98,213.51L352.50,214.35L353.06,215.17L353.66,215.96L354.31,216.71L354.99,217.42L355.71,218.10L356.47,218.73L357.26,219.33L358.08,219.88L358.93,220.40L359.80,220.88L360.69,221.34L361.59,221.76L362.51,222.16L363.44,222.54L364.37,222.89L365.31,223.23L366.26,223.55L367.21,223.86L368.17,224.16L369.12,224.45L370.08,224.74L371.05,225.02L372.01,225.31L372.97,225.59L373.93,225.87L374.89,226.16L375.85,226.44L376.81,226.73L377.77,227.01L378.73,227.29L379.69,227.57L380.66,227.85L381.62,228.12L382.59,228.38L383.56,228.65L384.52,228.91L385.49,229.18L386.46,229.45L387.41,229.73L388.36,230.04L389.30,230.36L390.23,230.71L391.14,231.09L392.05,231.51L392.93,231.95L393.81,232.42L394.68,232.92L395.54,233.43L396.40,233.95L397.24,234.49L398.08,235.04L398.91,235.60L399.72,236.18L400.52,236.78L401.31,237.39L402.09,238.02L402.85,238.66L403.61,239.31L404.37,239.96L405.13,240.62L405.88,241.28L406.64,241.93L407.40,242.59L408.14,243.25L408.87,243.92L409.58,244.61L410.26,245.33L410.92,246.07L411.54,246.84L412.15,247.63L412.73,248.44L413.30,249.26L413.87,250.09L414.43,250.93L414.98,251.76L415.53,252.60L416.07,253.44L416.61,254.28L417.14,255.14L417.65,255.99L418.15,256.86L418.64,257.73L419.11,258.61L419.57,259.50L420.01,260.39L420.45,261.29L420.89,262.19L421.33,263.09L421.78,263.98L422.24,264.87L422.71,265.75L423.19,266.63L423.68,267.50L424.16,268.38L424.65,269.25L425.12,270.13L425.58,271.02L426.03,271.91L426.46,272.81L426.87,273.72L427.27,274.64L427.67,275.56L428.06,276.48L428.44,277.40L428.82,278.33L429.19,279.26L429.57,280.19L429.94,281.11L430.31,282.04L430.68,282.97L431.05,283.91L431.41,284.84L431.78,285.77L432.14,286.70L432.50,287.64L432.86,288.57L433.21,289.50L433.57,290.44L433.93,291.37L434.28,292.31L434.64,293.24L435.00,294.18L435.36,295.11L435.72,296.04L436.09,296.98L436.46,297.91L436.83,298.84L437.20,299.77L437.57,300.69L437.95,301.62L438.32,302.55L438.70,303.47L439.08,304.40L439.46,305.33L439.84,306.25L440.22,307.18L440.60,308.10L440.99,309.03L441.37,309.95L441.76,310.88L442.14,311.80L442.53,312.72L442.92,313.64L443.32,314.56L443.73,315.47L444.15,316.38L444.58,317.28L445.02,318.18L445.47,319.07L445.94,319.96L446.41,320.84L446.90,321.71L447.40,322.58L447.91,323.44L448.43,324.29L448.96,325.14L449.51,325.97L450.07,326.80L450.65,327.61L451.25,328.41L451.87,329.19L452.51,329.96L453.16,330.72L453.83,331.46L454.52,332.18L455.22,332.90L455.93,333.60L456.66,334.28L457.40,334.95L458.16,335.60L458.93,336.23L459.72,336.85L460.51,337.46L461.32,338.05L462.14,338.63L462.97,339.19L463.81,339.73L464.66,340.25L465.53,340.75L466.40,341.23L467.29,341.67L468.20,342.09L469.11,342.48L470.04,342.84L470.98,343.18L471.93,343.48L472.89,343.76L473.86,344.02L474.83,344.25L475.80,344.46L476.78,344.66L477.77,344.84L478.75,345.01L479.74,345.18L480.73,345.34L481.72,345.50L482.71,345.65L483.70,345.80L484.69,345.95L485.68,346.09L486.67,346.22L487.66,346.34L488.66,346.45L489.65,346.55L490.65,346.64L491.65,346.71L492.65,346.78L493.64,346.83L494.64,346.87L495.64,346.91L496.64,346.93L497.64,346.95L498.64,346.97L499.64,346.98L500.64,346.99L501.65,346.99L502.65,346.99L503.65,347.00L504.65,347.00L505.65,347.00L506.65,347.00L507.65,347.00L508.65,347.00L509.65,347.00L510.65,347.00L511.65,347.00L512.65,347.00L513.65,347.00L514.65,347.00L515.65,347.00L516.66,347.00L517.66,347.00L518.66,347.00L519.66,347.00L520.66,347.00L521.66,347.00L522.66,347.00L523.66,347.00L524.66,347.00L525.66,347.00L526.66,347.00L527.65,347.00L528.62,347.00L529.57,347.00L530.47,347.00L531.30,347.00L532.25,347.00L532.81,347.00" stroke="#2222ff"/>
<path d="M79.19,26.00L80.20,26.00L81.24,26.00L82.12,26.00L83.06,26.00L84.02,26.00L85.01,26.00L86.01,26.00L87.00,26.00L88.01,26.00L89.01,26.00L90.01,26.00L91.01,26.00L92.01,26.00L93.01,26.00L94.01,26.00L95.01,26.00L96.01,26.00L97.01,26.00L98.01,26.00L99.01,26.00L100.01,26.00L101.01,26.00L102.01,26.00L103.01,26.00L104.01,26.00L105.01,26.00L106.01,26.00L107.01,26.00L108.02,26.00L109.02,26.00L110.02,26.00L111.02,26.00L112.02,26.00L113.02,26.00L114.02,26.00L115.02,26.00L116.02,26.00L117.02,26.00L118.02,26.00L119.02,26.00L120.02,26.00L121.02,26.00L122.02,26.00L123.02,26.00L124.02,26.00L125.02,26.00L126.02,26.00L127.03,26.00L128.03,26.00L129.03,26.00L130.03,26.00L131.03,26.00L132.03,26.00L133.03,26.00L134.03,26.00L135.03,26.00L136.03,26.00L137.03,26.00L138.03,26.00L139.03,26.00L140.03,26.00L141.03,26.00L142.03,26.00L143.03,26.00L144.03,26.00L145.03,26.00L146.03,26.00L147.04,26.00L148.04,26.00L149.04,26.00L150.04,26.00L151.04,26.00L152.04,26.00L153.04,26.00L154.04,26.00L155.04,26.00L156.04,26.00L157.04,26.00L158.04,26.00L159.04,26.00L160.04,26.00L161.04,26.00L162.04,26.00L163.04,26.00L164.04,26.00L165.04,26.00L166.05,26.00L167.05,26.00L168.05,26.00L169.05,26.00L170.05,26.00L171.05,26.00L172.05,26.00L173.05,26.00L174.05,26.00L175.05,26.00L176.05,26.00L177.05,26.00L178.05,26.00L179.05,26.00L180.05,26.00L181.05,26.00L182.05,26.00L183.05,26.00L184.05,26.00L185.05,26.00L186.06,26.00L187.06,26.00L188.06,26.00L189.06,26.00L190.06,26.00L191.06,26.00L192.06,26.00L193.06,26.00L194.06,26.00L195.06,26.00L196.06,26.00L197.06,26.00L198.06,26.00L199.06,26.01L200.06,26.01L201.06,26.02L202.06,26.03L203.06,26.05L204.06,26.07L205.06,26.09L206.06,26.11L207.06,26.14L208.06,26.17L209.06,26.20L210.06,26.24L211.06,26.27L212.06,26.31L213.06,26.35L214.06,26.39L215.06,26.44L216.06,26.48L217.06,26.53L218.06,26.58L219.06,26.64L220.06,26.69L221.06,26.75L222.06,26.81L223.06,26.88L224.05,26.95L225.05,27.02L226.05,27.09L227.05,27.17L228.04,27.25L229.04,27.33L230.04,27.42L231.03,27.51L232.03,27.61L233.03,27.71L234.02,27.81L235.02,27.92L236.01,28.03L237.00,28.15L238.00,28.27L238.99,28.39L239.98,28.52L240.97,28.65L241.96,28.78L242.96,28.92L243.95,29.06L244.94,29.21L245.92,29.36L246.91,29.51L247.90,29.67L248.89,29.83L249.88,29.99L250.86,30.16L251.85,30.33L252.83,30.50L253.82,30.67L254.80,30.85L255.79,31.03L256.77,31.21L257.76,31.39L258.74,31.56L259.73,31.74L260.71,31.92L261.70,32.09L262.68,32.27L263.67,32.44L264.65,32.62L265.64,32.80L266.62,32.98L267.61,33.16L268.59,33.35L269.57,33.54L270.55,33.74L271.53,33.95L272.51,34.16L273.48,34.38L274.46,34.61L275.43,34.85L276.39,35.10L277.36,35.36L278.32,35.64L279.28,35.93L280.23,36.22L281.19,36.53L282.14,36.84L283.09,37.16L284.04,37.48L284.99,37.80L285.94,38.13L286.88,38.46L287.83,38.80L288.77,39.15L289.70,39.51L290.63,39.88L291.54,40.27L292.45,40.69L293.34,41.13L294.22,41.59L295.09,42.08L295.94,42.60L296.78,43.14L297.60,43.71L298.40,44.30L299.19,44.91L299.96,45.55L300.71,46.20L301.45,46.88L302.16,47.58L302.86,48.30L303.53,49.03L304.19,49.78L304.84,50.54L305.47,51.32L306.09,52.10L306.71,52.89L307.32,53.68L307.93,54.48L308.54,55.27L309.15,56.07L309.75,56.87L310.35,57.67L310.92,58.48L311.49,59.31L312.03,60.14L312.55,60.99L313.05,61.85L313.54,62.72L314.02,63.60L314.48,64.49L314.94,65.37L315.40,66.27L315.86,67.16L316.33,68.05L316.79,68.93L317.26,69.82L317.72,70.71L318.17,71.60L318.62,72.49L319.06,73.39L319.48,74.30L319.88,75.21L320.27,76.13L320.65,77.06L321.01,77.99L321.36,78.92L321.70,79.86L322.03,80.81L322.35,81.76L322.67,82.71L322.98,83.66L323.29,84.61L323.60,85.56L323.91,86.51L324.23,87.46L324.55,88.41L324.88,89.35L325.22,90.29L325.56,91.23L325.91,92.17L326.26,93.11L326.62,94.04L326.98,94.98L327.33,95.91L327.69,96.85L328.04,97.78L328.38,98.72L328.70,99.67L329.02,100.61L329.31,101.57L329.60,102.52L329.88,103.48L330.14,104.45L330.40,105.41L330.65,106.38L330.90,107.35L331.15,108.32L331.39,109.29L331.64,110.27L331.88,111.24L332.13,112.21L332.37,113.18L332.62,114.15L332.86,115.12L333.11,116.09L333.35,117.07L333.60,118.04L333.85,119.01L334.10,119.97L334.37,120.94L334.64,121.90L334.92,122.86L335.22,123.81L335.54,124.76L335.86,125.71L336.20,126.65L336.54,127.59L336.87,128.53L337.18,129.47L337.47,130.42L337.73,131.38L337.96,132.35L338.17,133.32L338.34,134.30L338.51,135.29L338.66,136.28L338.80,137.27L338.94,138.26L339.09,139.25L339.23,140.24L339.37,141.23L339.52,142.22L339.67,143.21L339.83,144.20L339.98,145.19L340.15,146.17L340.32,147.16L340.49,148.14L340.68,149.13L340.87,150.11L341.07,151.09L341.28,152.07L341.49,153.04L341.70,154.02L341.91,155.00L342.12,155.98L342.33,156.96L342.54,157.94L342.73,158.92L342.93,159.90L343.11,160.88L343.29,161.87L343.47,162.85L343.64,163.84L343.80,164.82L343.97,165.81L344.12,166.80L344.28,167.79L344.43,168.78L344.58,169.77L344.74,170.75L344.90,171.74L345.07,172.73L345.25,173.71L345.45,174.69L345.66,175.66L345.88,176.64L346.12,177.61L346.37,178.58L346.61,179.54L346.85,180.52L347.09,181.49L347.31,182.46L347.53,183.44L347.73,184.42L347.93,185.40L348.12,186.38L348.31,187.36L348.50,188.34L348.69,189.33L348.88,190.31L349.07,191.29L349.26,192.28L349.45,193.26L349.64,194.24L349.83,195.22L350.03,196.20L350.24,197.18L350.46,198.16L350.70,199.12L350.96,200.09L351.25,201.04L351.56,201.99L351.89,202.93L352.25,203.86L352.65,204.77L353.07,205.67L353.54,206.54L354.05,207.38L354.61,208.18L355.23,208.94L355.90,209.64L356.63,210.29L357.41,210.88L358.22,211.43L359.07,211.93L359.95,212.39L360.85,212.81L361.77,213.21L362.69,213.59L363.63,213.94L364.57,214.27L365.52,214.59L366.47,214.89L367.43,215.18L368.39,215.46L369.35,215.73L370.31,216.01L371.28,216.28L372.24,216.56L373.20,216.84L374.16,217.13L375.11,217.43L376.06,217.74L377.01,218.06L377.95,218.40L378.88,218.76L379.81,219.13L380.72,219.52L381.63,219.93L382.54,220.35L383.44,220.79L384.33,221.23L385.23,221.68L386.12,222.13L387.02,222.58L387.91,223.03L388.81,223.48L389.70,223.93L390.59,224.39L391.47,224.86L392.36,225.33L393.23,225.81L394.11,226.30L394.97,226.80L395.83,227.31L396.69,227.83L397.54,228.36L398.38,228.90L399.21,229.46L400.03,230.03L400.83,230.62L401.62,231.23L402.40,231.86L403.16,232.51L403.90,233.17L404.62,233.86L405.32,234.57L406.01,235.30L406.67,236.04L407.32,236.80L407.95,237.57L408.57,238.36L409.18,239.15L409.78,239.95L410.38,240.76L410.96,241.57L411.54,242.38L412.12,243.20L412.70,244.02L413.27,244.84L413.84,245.66L414.42,246.48L414.99,247.30L415.56,248.12L416.14,248.94L416.71,249.76L417.28,250.58L417.84,251.41L418.40,252.24L418.94,253.08L419.46,253.93L419.96,254.79L420.44,255.67L420.90,256.55L421.34,257.45L421.76,258.36L422.16,259.27L422.54,260.19L422.92,261.12L423.29,262.05L423.65,262.98L424.00,263.92L424.36,264.85L424.72,265.79L425.08,266.72L425.44,267.66L425.79,268.59L426.15,269.53L426.49,270.47L426.84,271.41L427.18,272.35L427.51,273.29L427.84,274.23L428.17,275.18L428.50,276.12L428.83,277.07L429.16,278.01L429.49,278.96L429.82,279.90L430.16,280.84L430.50,281.79L430.84,282.73L431.18,283.67L431.53,284.60L431.88,285.54L432.24,286.47L432.60,287.41L432.96,288.34L433.32,289.27L433.69,290.21L434.05,291.14L434.42,292.07L434.80,292.99L435.17,293.92L435.55,294.85L435.93,295.77L436.31,296.70L436.70,297.62L437.09,298.54L437.48,299.46L437.87,300.38L438.26,301.30L438.65,302.23L439.03,303.15L439.41,304.08L439.78,305.01L440.15,305.94L440.51,306.87L440.86,307.81L441.21,308.74L441.56,309.68L441.90,310.62L442.25,311.56L442.60,312.50L442.95,313.43L443.32,314.36L443.69,315.29L444.06,316.22L444.44,317.15L444.84,318.07L445.23,318.98L445.64,319.90L446.06,320.81L446.48,321.71L446.91,322.62L447.36,323.51L447.81,324.40L448.27,325.29L448.75,326.17L449.23,327.05L449.73,327.92L450.23,328.78L450.74,329.64L451.27,330.50L451.81,331.34L452.36,332.18L452.93,332.99L453.52,333.79L454.14,334.57L454.79,335.33L455.46,336.06L456.16,336.77L456.89,337.45L457.64,338.11L458.42,338.73L459.22,339.33L460.04,339.90L460.87,340.44L461.73,340.94L462.61,341.42L463.50,341.87L464.41,342.28L465.33,342.66L466.26,343.01L467.21,343.34L468.16,343.63L469.12,343.90L470.09,344.14L471.07,344.35L472.05,344.55L473.03,344.72L474.02,344.88L475.01,345.02L476.00,345.15L476.99,345.26L477.99,345.36L478.99,345.45L479.98,345.54L480.98,345.61L481.98,345.68L482.98,345.74L483.98,345.79L484.98,345.83L485.98,345.87L486.98,345.90L487.98,345.93L488.98,345.95L489.98,345.97L490.98,345.98L491.98,345.99L492.98,345.99L493.98,346.00L494.98,346.00L495.98,346.00L496.98,346.00L497.98,346.00L498.98,346.00L499.98,346.00L500.98,346.00L501.98,346.00L502.98,346.00L503.98,346.00L504.99,346.00L505.99,346.00L506.99,346.00L507.99,346.00L508.99,346.00L509.99,346.00L510.99,346.00L511.99,346.00L512.99,346.00L513.99,346.00L514.99,346.00L515.99,346.00L516.99,346.00L517.99,346.00L518.99,346.00L519.99,346.00L520.99,346.00L521.99,346.00L522.99,346.00L523.99,346.00L525.00,346.00L525.99,346.00L526.99,346.00L527.98,346.00L528.94,346.00L529.88,346.00L530.76,346.00L531.80,346.00L532.64,346.00L532.81,346.00" stroke="#22ffff"/>
<path d="M492,348.3H534" stroke="#5a1838" stroke-width="1.6"/>
</g>
<g class="t" font-size="13.2" style="stroke-width:0.35px"><text x="78.00" y="370.30" text-anchor="middle">100</text><text x="154.08" y="370.30" text-anchor="middle">200</text><text x="230.17" y="370.30" text-anchor="middle">300</text><text x="306.25" y="370.30" text-anchor="middle">400</text><text x="382.33" y="370.30" text-anchor="middle">500</text><text x="458.42" y="370.30" text-anchor="middle">600</text><text x="534.50" y="370.30" text-anchor="middle">700</text><text x="66.80" y="351.80" text-anchor="end">0</text><text x="66.80" y="287.32" text-anchor="end">20</text><text x="66.80" y="222.84" text-anchor="end">40</text><text x="66.80" y="158.36" text-anchor="end">60</text><text x="66.80" y="93.88" text-anchor="end">80</text><text x="66.80" y="29.40" text-anchor="end">100</text></g>
<g stroke-width="2.3" stroke-linecap="round"><line x1="88.6" y1="244.90" x2="123.2" y2="244.90" stroke="#333333"/><line x1="88.6" y1="264.60" x2="123.2" y2="264.60" stroke="#ff2020"/><line x1="88.6" y1="284.30" x2="123.2" y2="284.30" stroke="#22ee22"/><line x1="88.6" y1="304.00" x2="123.2" y2="304.00" stroke="#2222ff"/><line x1="88.6" y1="323.70" x2="123.2" y2="323.70" stroke="#22ffff"/></g>
<g class="t" font-size="16.5"><text x="128.10" y="250.50">4, 4'-ISDPA/ODA</text><text x="128.10" y="270.20">4, 4'-ISDPA/MDA</text><text x="128.10" y="289.90">4, 4'-ISDPA/<tspan class="m">m</tspan>-PDA</text><text x="128.10" y="309.60">4, 4'-ISDPA/DAII</text><text x="128.10" y="329.30">4, 4'-ISDPA/DAIS</text></g>
<text class="t" font-size="16.1" transform="translate(20.3,180.1) rotate(-90)" text-anchor="middle">Weight (wt%)</text>
<text class="t tt" font-size="16.5" x="244.2" y="397.0">Temperature <tspan dy="0.8">(</tspan><tspan class="c" dx="1.0" dy="0.6" font-size="15">℃</tspan><tspan dx="1.2" dy="-0.6">)</tspan></text>
</svg>
</body></html>
